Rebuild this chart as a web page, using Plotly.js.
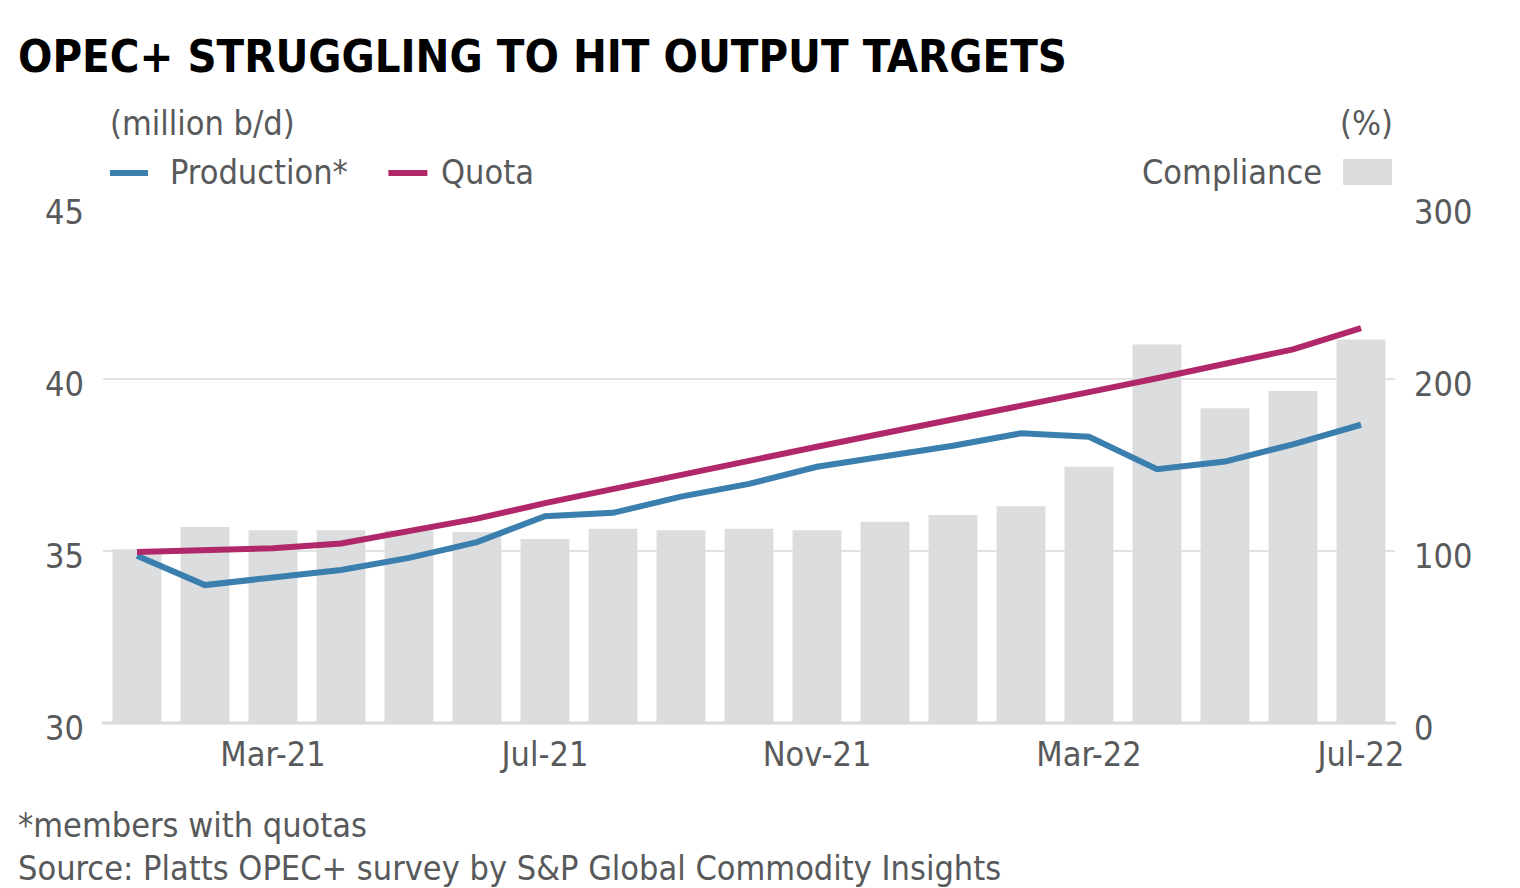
<!DOCTYPE html>
<html>
<head>
<meta charset="utf-8">
<script src="https://cdn.plot.ly/plotly-3.0.1.min.js"></script>
<style>
html,body{margin:0;padding:0;background:#fff;}
#chart{width:1520px;height:888px;}
</style>
</head>
<body>
<div id="chart"></div>
<script>
const months = ["Jan-21","Feb-21","Mar-21","Apr-21","May-21","Jun-21","Jul-21","Aug-21","Sep-21","Oct-21","Nov-21","Dec-21","Jan-22","Feb-22","Mar-22","Apr-22","May-22","Jun-22","Jul-22"];
const production = [34.86,34.01,34.23,34.45,34.80,35.26,36.01,36.11,36.58,36.95,37.45,37.76,38.06,38.42,38.32,37.38,37.60,38.10,38.67];
const quota = [34.97,35.02,35.08,35.22,35.58,35.94,36.39,36.81,37.21,37.62,38.03,38.43,38.84,39.24,39.62,40.02,40.42,40.86,41.48];
const compliance = [101,114,112,112,112,111,107,113,112,113,112,117,121,126,149,220,183,193,223];
const xTicks = ["Mar-21","Jul-21","Nov-21","Mar-22","Jul-22"];
const leftTicks = [30,35,40,45];
const rightTicks = [0,100,200,300];

const FONT = "'DejaVu Sans Condensed','Liberation Sans Narrow',sans-serif";
const GREY = "#58595b";
const C_PROD = "#3a7fae";
const C_QUOTA = "#b1286a";
const C_BAR = "#dcdddf";

const traces = [
  {type:"bar", x:months, y:compliance, yaxis:"y", marker:{color:C_BAR}, name:"Compliance", hoverinfo:"x+y"},
  {type:"scatter", mode:"lines", x:months, y:production, yaxis:"y2", line:{color:C_PROD,width:6}, name:"Production*"},
  {type:"scatter", mode:"lines", x:months, y:quota, yaxis:"y2", line:{color:C_QUOTA,width:6}, name:"Quota"}
];

const layout = {
  width:1520, height:888,
  margin:{l:103, r:125, t:207, b:165},
  paper_bgcolor:"#fff", plot_bgcolor:"#fff",
  showlegend:false,
  bargap:0.28,
  font:{family:FONT, color:GREY, size:34},
  xaxis:{
    type:"category", categoryorder:"array", categoryarray:months,
    tickmode:"array", tickvals:xTicks, ticktext:xTicks,
    showgrid:false, zeroline:false, showline:false, ticks:"",
    tickfont:{family:FONT, size:34, color:GREY},
    ticklabelstandoff:8
  },
  yaxis:{
    side:"right", range:[0,300], tickmode:"array", tickvals:rightTicks,
    showgrid:true, gridcolor:"#e3e3e3", gridwidth:2.5, zeroline:false, showline:false, ticks:"",
    tickfont:{family:FONT, size:34, color:GREY}, ticklabelstandoff:18, ticklabelshift:5
  },
  yaxis2:{
    side:"left", overlaying:"y", range:[30,45], tickmode:"array", tickvals:leftTicks,
    showgrid:false, zeroline:false, showline:false, ticks:"",
    tickfont:{family:FONT, size:34, color:GREY}, ticklabelstandoff:18, ticklabelshift:5
  },
  shapes:[
    {type:"line", xref:"paper", yref:"paper", x0:-0.001, x1:1.001, y0:0, y1:0, line:{color:"#dadadb", width:3}, layer:"above"},
    {type:"line", xref:"paper", yref:"paper", x0:0.0054, x1:0.0348, y0:1.0659, y1:1.0659, line:{color:C_PROD, width:6}},
    {type:"line", xref:"paper", yref:"paper", x0:0.2209, x1:0.2511, y0:1.0659, y1:1.0659, line:{color:C_QUOTA, width:6}},
    {type:"rect", xref:"paper", yref:"paper", x0:0.9598, x1:0.9977, y0:1.0426, y1:1.093, line:{width:0}, fillcolor:C_BAR}
  ],
  annotations:[
    {xref:"paper", yref:"paper", x:-0.0674, y:1.2907, xanchor:"left", yanchor:"middle", showarrow:false,
     text:"<b>OPEC+ STRUGGLING TO HIT OUTPUT TARGETS</b>", font:{family:FONT, size:45, color:"#000"}},
    {xref:"paper", yref:"paper", x:0.004, y:1.163, xanchor:"left", yanchor:"middle", showarrow:false,
     text:"(million b/d)", font:{family:FONT, size:34, color:GREY}},
    {xref:"paper", yref:"paper", x:1.0, y:1.163, xanchor:"right", yanchor:"middle", showarrow:false,
     text:"(%)", font:{family:FONT, size:34, color:GREY}},
    {xref:"paper", yref:"paper", x:0.0504, y:1.068, xanchor:"left", yanchor:"middle", showarrow:false,
     text:"Production*", font:{family:FONT, size:34, color:GREY}},
    {xref:"paper", yref:"paper", x:0.2597, y:1.068, xanchor:"left", yanchor:"middle", showarrow:false,
     text:"Quota", font:{family:FONT, size:34, color:GREY}},
    {xref:"paper", yref:"paper", x:0.945, y:1.068, xanchor:"right", yanchor:"middle", showarrow:false,
     text:"Compliance", font:{family:FONT, size:34, color:GREY}},
    {xref:"paper", yref:"paper", x:-0.0674, y:-0.198, xanchor:"left", yanchor:"middle", showarrow:false,
     text:"*members with quotas", font:{family:FONT, size:34, color:GREY}},
    {xref:"paper", yref:"paper", x:-0.0674, y:-0.281, xanchor:"left", yanchor:"middle", showarrow:false,
     text:"Source: Platts OPEC+ survey by S&amp;P Global Commodity Insights", font:{family:FONT, size:34, color:GREY}}
  ]
};

Plotly.newPlot("chart", traces, layout, {displayModeBar:false, staticPlot:true});
</script>
</body>
</html>
